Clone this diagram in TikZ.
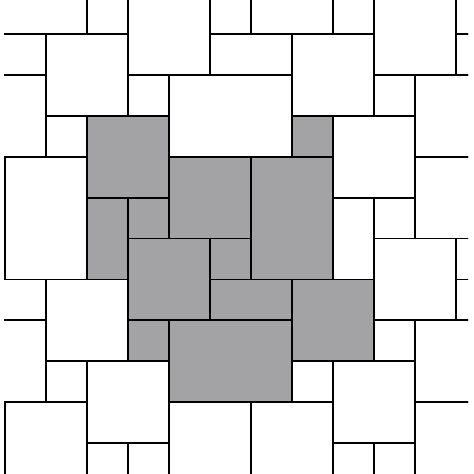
\documentclass[tikz,border=0pt]{standalone}
\definecolor{tilegray}{RGB}{163,163,166}
\begin{document}
\begin{tikzpicture}[x=1pt,y=1pt]
\useasboundingbox (0,0) rectangle (474,-474);
\clip (4,0) rectangle (468,-474);
\begin{scope}[shift={(5,-34)}, x=41pt, y=-40.9pt,
  tileline/.style={draw=black, line width=1.8pt, line join=miter},
  whitefill/.style={fill=white},
  grayfill/.style={fill=tilegray}]
% white tiles
\foreach \a/\b/\c/\d in {
 -1/-1/2/0, 2/-1/3/0, 3/-1/5/1, 5/-1/6/0, 6/-1/8/0, 8/-1/9/0, 9/-1/11/1, 11/-1/12/0,
 -1/0/1/1, 1/0/3/2, 5/0/7/1, 7/0/9/2, 11/0/12/1,
 -1/1/1/3, 3/1/4/2, 4/1/7/3, 9/1/10/2, 10/1/12/3,
 1/2/2/3, 8/2/10/4,
 0/3/2/6, 10/3/12/5,
 8/4/9/6, 9/4/10/5,
 9/5/11/7, 11/5/12/6,
 11/6/12/7, -1/6/1/7, 1/6/3/8,
 -1/7/1/9, 9/7/10/8, 10/7/12/9,
 1/8/2/9, 2/8/4/10, 7/8/8/9, 8/8/10/10,
 0/9/2/11, 4/9/6/11, 6/9/8/11, 10/9/12/11,
 2/10/3/11, 3/10/4/11, 8/10/9/11, 9/10/10/11}
 \fill[whitefill] (\a,\b) rectangle (\c,\d);
% gray tiles
\foreach \a/\b/\c/\d in {
 2/2/4/4, 7/2/8/3, 4/3/6/5, 6/3/8/6, 2/4/3/6, 3/4/4/5,
 3/5/5/7, 5/5/6/6, 5/6/7/7, 7/6/9/8, 3/7/4/8, 4/7/7/9}
 \fill[grayfill] (\a,\b) rectangle (\c,\d);
% outlines
\foreach \a/\b/\c/\d in {
 -1/-1/2/0, 2/-1/3/0, 3/-1/5/1, 5/-1/6/0, 6/-1/8/0, 8/-1/9/0, 9/-1/11/1, 11/-1/12/0,
 -1/0/1/1, 1/0/3/2, 5/0/7/1, 7/0/9/2, 11/0/12/1,
 -1/1/1/3, 3/1/4/2, 4/1/7/3, 9/1/10/2, 10/1/12/3,
 1/2/2/3, 8/2/10/4,
 0/3/2/6, 10/3/12/5,
 8/4/9/6, 9/4/10/5,
 9/5/11/7, 11/5/12/6,
 11/6/12/7, -1/6/1/7, 1/6/3/8,
 -1/7/1/9, 9/7/10/8, 10/7/12/9,
 1/8/2/9, 2/8/4/10, 7/8/8/9, 8/8/10/10,
 0/9/2/11, 4/9/6/11, 6/9/8/11, 10/9/12/11,
 2/10/3/11, 3/10/4/11, 8/10/9/11, 9/10/10/11,
 2/2/4/4, 7/2/8/3, 4/3/6/5, 6/3/8/6, 2/4/3/6, 3/4/4/5,
 3/5/5/7, 5/5/6/6, 5/6/7/7, 7/6/9/8, 3/7/4/8, 4/7/7/9}
 \draw[tileline] (\a,\b) rectangle (\c,\d);
\end{scope}
\end{tikzpicture}
\end{document}
